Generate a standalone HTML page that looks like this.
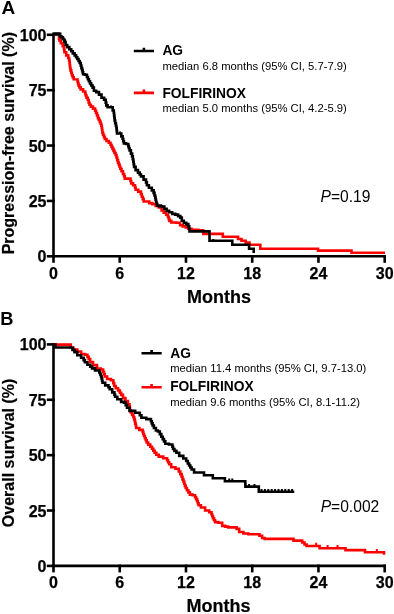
<!DOCTYPE html>
<html><head><meta charset="utf-8"><title>Kaplan-Meier curves</title>
<style>
html,body{margin:0;padding:0;background:#fff;}
body{width:394px;height:614px;overflow:hidden;}
svg{display:block;}
text{font-family:"Liberation Sans",Arial,sans-serif;fill:#000;}
.pl{font-size:19px;font-weight:bold;}
.yl{font-size:16px;font-weight:bold;stroke:#000;stroke-width:0.2px;}
.xl{font-size:18px;font-weight:bold;stroke:#000;stroke-width:0.2px;}
.tk{font-size:16px;font-weight:bold;stroke:#000;stroke-width:0.25px;}
.ln{font-size:13.8px;font-weight:bold;}
.lm{font-size:11.25px;}
.pv{font-size:15.6px;}
.ax{stroke:#000;stroke-width:2.6;fill:none;stroke-linecap:square;}
</style></head>
<body>
<svg width="394" height="614" viewBox="0 0 394 614">
<text x="1.5" y="13.8" class="pl">A</text>
<text transform="translate(14.0,143.2) rotate(-90)" class="yl" text-anchor="middle">Progression-free survival (%)</text>
<path d="M53.5,34.80V256.30H384.7" class="ax"/>
<path d="M48.1,256.30H53.5" class="ax"/>
<text x="46.5" y="262.30" class="tk" text-anchor="end">0</text>
<path d="M48.1,200.93H53.5" class="ax"/>
<text x="46.5" y="206.93" class="tk" text-anchor="end">25</text>
<path d="M48.1,145.55H53.5" class="ax"/>
<text x="46.5" y="151.55" class="tk" text-anchor="end">50</text>
<path d="M48.1,90.18H53.5" class="ax"/>
<text x="46.5" y="96.18" class="tk" text-anchor="end">75</text>
<path d="M48.1,34.80H53.5" class="ax"/>
<text x="46.5" y="40.80" class="tk" text-anchor="end">100</text>
<path d="M53.50,256.30V261.50" class="ax"/>
<text x="53.50" y="278.50" class="tk" text-anchor="middle">0</text>
<path d="M119.74,256.30V261.50" class="ax"/>
<text x="119.74" y="278.50" class="tk" text-anchor="middle">6</text>
<path d="M185.98,256.30V261.50" class="ax"/>
<text x="185.98" y="278.50" class="tk" text-anchor="middle">12</text>
<path d="M252.22,256.30V261.50" class="ax"/>
<text x="252.22" y="278.50" class="tk" text-anchor="middle">18</text>
<path d="M318.46,256.30V261.50" class="ax"/>
<text x="318.46" y="278.50" class="tk" text-anchor="middle">24</text>
<path d="M384.70,256.30V261.50" class="ax"/>
<text x="384.70" y="278.50" class="tk" text-anchor="middle">30</text>
<text x="219.1" y="303.30" class="xl" text-anchor="middle">Months</text>
<path d="M133.8,51.00H154.00M143.90,51.00V47.70" stroke="#000" stroke-width="2.6" fill="none"/>
<text x="162.4" y="55.20" class="ln">AG</text>
<text x="162.4" y="70.00" class="lm">median 6.8 months (95% CI, 5.7-7.9)</text>
<path d="M133.8,92.90H154.00M143.90,92.90V89.60" stroke="#f00" stroke-width="2.6" fill="none"/>
<text x="162.4" y="97.50" class="ln">FOLFIRINOX</text>
<text x="162.4" y="111.90" class="lm">median 5.0 months (95% CI, 4.2-5.9)</text>
<text x="320.5" y="201.90" class="pv"><tspan font-style="italic">P</tspan>=0.19</text>
<polyline points="53.5,34.2 59.0,34.2 59.0,38.6 59.4,38.6 59.4,40.5 59.8,40.5 60.8,40.5 60.8,43.2 61.7,43.2 62.7,43.2 62.7,46.2 63.7,46.2 63.9,46.2 63.9,48.2 64.2,48.2 64.2,50.3 64.5,50.3 64.5,52.3 64.7,52.3 66.2,52.3 66.2,55.4 67.8,55.4 68.2,55.4 68.2,58.0 69.1,58.0 69.1,60.5 69.5,60.5 69.6,60.5 69.6,63.0 69.8,63.0 69.8,65.5 70.1,65.5 70.1,68.0 70.2,68.0 70.5,68.0 70.5,70.4 71.2,70.4 71.2,72.8 71.9,72.8 71.9,75.2 72.2,75.2 72.7,75.2 72.7,77.2 73.7,77.2 73.7,79.3 74.2,79.3 77.3,79.5 77.5,79.5 77.5,81.5 78.0,81.5 78.0,83.4 78.5,83.4 78.5,85.4 78.8,85.4 79.4,85.4 79.4,87.4 80.7,87.4 80.7,89.4 81.3,89.4 83.1,89.4 83.1,91.5 84.9,91.5 85.2,91.5 85.2,93.5 85.7,93.5 85.7,95.5 85.9,95.5 86.5,95.5 86.5,97.8 87.8,97.8 87.8,100.0 88.4,100.0 88.7,100.0 88.7,102.8 88.9,102.8 89.5,102.8 89.5,104.7 90.8,104.7 90.8,106.6 91.4,106.6 93.0,106.6 93.0,108.6 94.6,108.6 95.1,108.6 95.1,110.8 96.0,110.8 96.0,113.0 96.5,113.0 97.0,113.0 97.0,115.5 97.9,115.5 97.9,118.1 98.4,118.1 98.9,118.1 98.9,120.0 99.8,120.0 99.8,121.9 100.3,121.9 100.6,121.9 100.6,123.8 101.3,123.8 101.3,125.7 101.6,125.7 101.8,125.7 101.8,128.0 102.1,128.0 102.1,130.3 102.4,130.3 102.4,132.6 102.6,132.6 103.0,132.6 103.0,134.7 103.9,134.7 103.9,136.9 104.8,136.9 104.8,139.0 105.2,139.0 106.5,139.0 106.5,141.0 107.7,141.0 108.8,141.0 108.8,142.8 110.0,142.8 110.5,142.8 110.5,144.8 111.5,144.8 111.5,146.9 112.5,146.9 112.5,148.9 113.0,148.9 113.5,148.9 113.5,150.9 114.5,150.9 114.5,153.0 115.6,153.0 115.6,155.0 116.1,155.0 116.5,155.0 116.5,157.5 117.2,157.5 117.2,160.1 118.0,160.1 118.0,162.6 118.4,162.6 118.8,162.6 118.8,164.6 119.6,164.6 119.6,166.7 120.3,166.7 120.3,168.7 120.7,168.7 121.5,168.7 121.5,171.3 123.0,171.3 123.0,174.0 123.7,174.0 124.1,174.0 124.1,176.3 124.8,176.3 124.8,178.6 125.2,178.6 130.2,178.6 130.5,178.6 130.5,181.0 131.2,181.0 131.2,183.4 131.5,183.4 133.1,183.4 133.1,185.3 134.7,185.3 135.0,185.3 135.0,187.5 135.6,187.5 135.6,189.7 135.9,189.7 138.2,189.7 138.2,191.6 140.4,191.6 140.9,191.6 140.9,194.1 141.8,194.1 141.8,196.7 142.3,196.7 142.8,196.7 142.8,199.1 143.7,199.1 143.7,201.5 144.2,201.5 148.0,201.5 149.2,201.5 149.2,203.1 150.5,203.1 152.4,203.1 152.4,204.3 154.3,204.3 155.6,204.3 155.6,206.0 156.9,206.0 158.8,206.0 158.8,207.5 160.7,207.5 161.6,207.5 161.6,210.5 162.4,210.5 163.7,210.5 163.7,212.7 166.2,212.7 166.2,214.8 167.5,214.8 167.9,214.8 167.9,216.8 168.7,216.8 168.7,218.9 169.4,218.9 169.4,220.9 169.8,220.9 171.3,220.9 171.3,222.5 172.8,222.5 176.2,222.5 176.2,222.8 179.6,222.8 180.1,222.8 180.1,225.2 180.5,225.2 182.7,225.2 182.7,226.4 184.9,226.4 185.7,226.4 185.7,227.5 186.4,227.5 188.2,227.5 188.2,228.7 189.9,228.7 191.6,228.7 191.6,229.8 193.3,229.8 198.2,229.8 198.2,230.2 203.0,230.2 203.2,230.2 203.2,232.1 203.4,232.1 203.4,233.9 203.6,233.9 221.6,233.7 222.8,233.7 222.8,236.7 223.9,236.7 238.0,236.7 238.0,239.0 241.5,239.0 241.5,240.7 245.7,240.7 245.7,242.6 249.5,242.6 249.5,244.7 260.3,244.7 260.3,248.8 318.0,248.8 318.0,250.6 351.5,250.6 351.5,252.7 385.0,252.7" stroke="#f00" stroke-width="2.6" fill="none" stroke-linejoin="miter" stroke-miterlimit="4"/>
<polyline points="53.5,33.8 59.9,33.8 60.2,33.8 60.2,36.4 60.6,36.4 61.4,36.4 61.4,37.4 62.2,37.4 62.9,37.4 62.9,39.0 63.6,39.0 64.1,39.0 64.1,40.6 64.6,40.6 64.8,40.6 64.8,42.0 65.0,42.0 65.6,42.0 65.6,45.0 66.2,45.0 67.2,45.0 67.2,47.1 69.3,47.1 69.3,49.3 70.3,49.3 71.2,49.3 71.2,51.3 72.8,51.3 72.8,53.4 74.6,53.4 74.6,55.4 75.4,55.4 76.1,55.4 76.1,57.2 77.3,57.2 77.3,59.0 78.0,59.0 78.6,59.0 78.6,61.0 79.7,61.0 79.7,63.0 80.3,63.0 80.7,63.0 80.7,65.5 81.4,65.5 81.4,68.1 81.8,68.1 82.1,68.1 82.1,70.1 82.6,70.1 82.6,72.2 83.1,72.2 83.1,74.2 83.4,74.2 84.9,74.2 84.9,74.7 86.4,74.7 86.9,74.7 86.9,77.0 87.9,77.0 87.9,79.3 88.4,79.3 88.9,79.3 88.9,81.3 90.0,81.3 90.0,83.4 90.5,83.4 91.2,83.4 91.2,85.5 92.6,85.5 92.6,87.6 93.3,87.6 93.9,87.6 93.9,90.8 94.6,90.8 96.2,90.8 96.2,92.1 97.8,92.1 99.0,92.1 99.0,94.6 100.3,94.6 101.5,94.6 101.5,97.8 102.8,97.8 104.1,97.8 104.1,99.7 105.4,99.7 105.7,99.7 105.7,102.6 106.3,102.6 106.3,105.4 106.6,105.4 107.6,105.4 107.6,107.3 108.6,107.3 111.7,107.3 112.7,107.3 112.7,110.5 113.6,110.5 113.8,110.5 113.8,113.0 114.1,113.0 114.1,115.5 114.4,115.5 114.4,118.1 114.7,118.1 114.7,120.6 114.9,120.6 115.2,120.6 115.2,123.2 115.9,123.2 115.9,125.7 116.2,125.7 116.4,125.7 116.4,128.3 116.7,128.3 116.7,130.9 117.0,130.9 117.0,133.5 117.2,133.5 120.4,133.5 121.3,133.5 121.3,136.4 122.3,136.4 122.6,136.4 122.6,138.7 123.2,138.7 123.2,141.1 123.9,141.1 123.9,143.4 124.2,143.4 126.1,143.4 126.1,144.0 128.0,144.0 128.3,144.0 128.3,146.1 128.9,146.1 128.9,148.3 129.6,148.3 129.6,150.4 129.9,150.4 130.9,150.4 130.9,153.6 131.8,153.6 132.1,153.6 132.1,156.4 132.8,156.4 132.8,159.3 133.1,159.3 133.3,159.3 133.3,161.8 133.7,161.8 133.7,164.4 134.1,164.4 134.1,166.9 134.3,166.9 135.6,166.9 135.6,170.1 136.9,170.1 138.0,170.1 138.0,172.6 139.1,172.6 139.7,172.6 139.7,174.5 141.0,174.5 141.0,176.4 141.6,176.4 143.6,176.4 143.6,179.6 145.5,179.6 146.0,179.6 146.0,182.4 146.9,182.4 146.9,185.3 147.4,185.3 148.9,185.3 148.9,187.8 150.5,187.8 151.8,187.8 151.8,190.4 153.1,190.4 153.6,190.4 153.6,192.9 154.5,192.9 154.5,195.5 155.0,195.5 155.2,195.5 155.2,197.6 155.6,197.6 155.6,199.7 156.0,199.7 156.0,201.8 156.2,201.8 156.5,201.8 156.5,203.7 157.2,203.7 157.2,205.5 157.5,205.5 159.1,205.5 159.1,206.2 160.7,206.2 162.0,206.2 162.0,206.5 163.3,206.5 164.3,206.5 164.3,208.8 165.3,208.8 166.6,208.8 166.6,210.8 167.8,210.8 169.1,210.8 169.1,212.3 170.4,212.3 172.2,212.3 172.2,213.9 173.9,213.9 175.2,213.9 175.2,214.6 176.5,214.6 178.1,214.6 178.1,216.1 179.6,216.1 180.3,216.1 180.3,217.6 181.1,217.6 181.8,217.6 181.8,220.7 182.6,220.7 183.8,220.7 183.8,222.9 184.9,222.9 186.2,222.9 186.2,224.1 187.6,224.1 188.3,224.1 188.3,226.4 189.1,226.4 189.2,226.4 189.2,228.9 189.5,228.9 189.5,231.4 189.7,231.4 209.5,231.4 209.5,240.8 232.3,240.8 232.3,244.8 249.1,244.7 249.1,248.7 253.7,248.7 253.7,252.9" stroke="#000" stroke-width="2.6" fill="none" stroke-linejoin="miter" stroke-miterlimit="4"/>
<path d="M111.0,107.3V105.4M120.0,133.5V131.6M161.2,206.2V204.3M213.3,240.8V238.9" stroke="#000" stroke-width="2" fill="none"/>
<rect x="52.3" y="32.4" width="7.9" height="3.3" fill="#000"/>
<text transform="translate(0.2,325.0) scale(0.96,1)" class="pl">B</text>
<text transform="translate(14.0,452.9) rotate(-90)" class="yl" text-anchor="middle">Overall survival (%)</text>
<path d="M53.5,344.40V565.90H384.7" class="ax"/>
<path d="M48.1,565.90H53.5" class="ax"/>
<text x="46.5" y="571.90" class="tk" text-anchor="end">0</text>
<path d="M48.1,510.53H53.5" class="ax"/>
<text x="46.5" y="516.53" class="tk" text-anchor="end">25</text>
<path d="M48.1,455.15H53.5" class="ax"/>
<text x="46.5" y="461.15" class="tk" text-anchor="end">50</text>
<path d="M48.1,399.78H53.5" class="ax"/>
<text x="46.5" y="405.78" class="tk" text-anchor="end">75</text>
<path d="M48.1,344.40H53.5" class="ax"/>
<text x="46.5" y="350.40" class="tk" text-anchor="end">100</text>
<path d="M53.50,565.90V571.10" class="ax"/>
<text x="53.50" y="588.10" class="tk" text-anchor="middle">0</text>
<path d="M119.74,565.90V571.10" class="ax"/>
<text x="119.74" y="588.10" class="tk" text-anchor="middle">6</text>
<path d="M185.98,565.90V571.10" class="ax"/>
<text x="185.98" y="588.10" class="tk" text-anchor="middle">12</text>
<path d="M252.22,565.90V571.10" class="ax"/>
<text x="252.22" y="588.10" class="tk" text-anchor="middle">18</text>
<path d="M318.46,565.90V571.10" class="ax"/>
<text x="318.46" y="588.10" class="tk" text-anchor="middle">24</text>
<path d="M384.70,565.90V571.10" class="ax"/>
<text x="384.70" y="588.10" class="tk" text-anchor="middle">30</text>
<text x="218.5" y="612.30" class="xl" text-anchor="middle">Months</text>
<text x="320.7" y="511.70" class="pv"><tspan font-style="italic">P</tspan>=0.002</text>
<path d="M141.5,353.30H161.70M151.60,353.30V350.00" stroke="#000" stroke-width="2.6" fill="none"/>
<text x="170.2" y="357.70" class="ln">AG</text>
<text x="170.2" y="372.20" class="lm">median 11.4 months (95% CI, 9.7-13.0)</text>
<path d="M141.5,387.20H161.70M151.60,387.20V383.90" stroke="#f00" stroke-width="2.6" fill="none"/>
<text x="170.2" y="391.40" class="ln">FOLFIRINOX</text>
<text x="170.2" y="406.00" class="lm">median 9.6 months (95% CI, 8.1-11.2)</text>
<polyline points="53.5,344.6 70.5,344.6 70.8,344.6 70.8,347.5 71.2,347.5 73.3,347.5 73.3,349.6 75.4,349.6 77.3,349.6 77.3,351.5 79.2,351.5 81.1,351.5 81.1,354.0 83.0,354.0 84.9,354.0 84.9,354.7 86.8,354.7 87.4,354.7 87.4,356.9 88.7,356.9 88.7,359.1 89.3,359.1 90.2,359.1 90.2,362.0 91.0,362.0 93.0,362.0 93.0,365.1 95.1,365.1 97.0,365.1 97.0,368.5 98.9,368.5 100.8,368.5 100.8,369.5 102.7,369.5 103.1,369.5 103.1,371.8 104.0,371.8 104.0,374.2 104.8,374.2 104.8,376.5 105.2,376.5 107.1,376.5 107.1,379.0 109.0,379.0 110.9,379.0 110.9,380.3 112.8,380.3 113.3,380.3 113.3,383.1 114.2,383.1 114.2,386.0 114.7,386.0 115.8,386.0 115.8,388.2 118.1,388.2 118.1,390.5 119.2,390.5 119.8,390.5 119.8,392.7 121.1,392.7 121.1,394.9 121.7,394.9 123.0,394.9 123.0,398.1 124.3,398.1 125.4,398.1 125.4,401.0 126.5,401.0 127.9,401.0 127.9,404.4 129.3,404.4 129.5,404.4 129.5,406.3 129.8,406.3 129.8,408.3 130.0,408.3 130.0,410.2 130.2,410.2 130.8,410.2 130.8,412.5 132.1,412.5 132.1,414.9 133.4,414.9 133.4,417.2 134.0,417.2 134.2,417.2 134.2,419.4 134.8,419.4 134.8,421.5 135.2,421.5 135.2,423.7 135.8,423.7 135.8,425.8 136.2,425.8 136.2,428.0 136.5,428.0 139.3,428.0 139.3,429.9 142.2,429.9 142.6,429.9 142.6,431.9 143.3,431.9 143.3,434.0 144.0,434.0 144.0,436.0 144.4,436.0 144.9,436.0 144.9,438.2 145.8,438.2 145.8,440.3 146.7,440.3 146.7,442.5 147.2,442.5 148.2,442.5 148.2,444.6 150.3,444.6 150.3,446.7 151.4,446.7 152.0,446.7 152.0,448.7 153.3,448.7 153.3,450.8 154.6,450.8 154.6,452.8 155.2,452.8 156.3,452.8 156.3,454.7 158.7,454.7 158.7,456.6 159.8,456.6 163.2,456.6 163.2,458.2 166.6,458.2 167.1,458.2 167.1,460.2 168.1,460.2 168.1,462.2 169.2,462.2 169.2,464.2 169.7,464.2 171.2,464.2 171.2,467.3 172.7,467.3 175.4,467.3 175.4,468.8 178.1,468.8 178.8,468.8 178.8,471.5 180.3,471.5 180.3,474.1 181.1,474.1 181.6,474.1 181.6,476.8 182.5,476.8 182.5,479.4 183.0,479.4 183.4,479.4 183.4,481.5 184.2,481.5 184.2,483.7 184.9,483.7 184.9,485.9 185.7,485.9 185.7,488.0 186.1,488.0 186.9,488.0 186.9,490.2 188.4,490.2 188.4,492.4 189.9,492.4 189.9,494.6 190.7,494.6 192.6,494.6 192.6,495.3 194.5,495.3 195.1,495.3 195.1,497.2 196.1,497.2 196.1,499.1 196.7,499.1 197.1,499.1 197.1,501.1 197.8,501.1 197.8,503.2 198.6,503.2 198.6,505.2 199.0,505.2 200.9,505.2 200.9,507.5 202.8,507.5 205.1,507.5 205.1,510.5 207.4,510.5 209.2,510.5 209.2,512.2 211.1,512.2 211.5,512.2 211.5,514.2 212.2,514.2 212.2,516.3 213.0,516.3 213.0,518.3 213.4,518.3 214.0,518.3 214.0,520.2 215.1,520.2 215.1,522.1 215.7,522.1 218.3,522.1 218.3,522.8 221.0,522.8 222.2,522.8 222.2,525.9 223.3,525.9 225.2,525.9 225.2,526.6 227.1,526.6 228.2,526.6 228.2,527.4 229.4,527.4 235.4,527.4 236.6,527.4 236.6,528.9 237.7,528.9 239.2,528.9 239.2,532.0 240.8,532.0 243.4,532.0 243.4,533.5 246.1,533.5 248.4,533.5 248.4,534.2 250.7,534.2 258.3,534.2 259.5,534.2 259.5,535.8 260.6,535.8 262.1,535.8 262.1,538.0 263.6,538.0 264.6,538.0 264.6,538.9 265.7,538.9 293.5,538.9 293.5,540.6 301.0,540.6 302.2,540.6 302.2,542.5 303.5,542.5 304.5,542.5 304.5,544.5 305.5,544.5 306.6,544.5 306.6,546.0 307.8,546.0 319.6,546.0 319.6,548.2 345.5,548.2 345.5,550.1 365.0,550.1 365.0,552.2 384.0,552.2 384.0,554.8" stroke="#f00" stroke-width="2.6" fill="none" stroke-linejoin="miter" stroke-miterlimit="4"/>
<path d="M316.2,546.0V542.8M327.6,548.2V545.0M337.5,548.2V545.0M376.8,552.2V549.0" stroke="#f00" stroke-width="2" fill="none"/>
<polyline points="53.5,344.6 55.5,344.6 55.5,347.5 70.9,347.5 71.6,347.7 72.5,347.7 72.5,349.9 74.5,349.9 74.5,352.1 75.4,352.1 77.3,352.1 77.3,355.3 79.2,355.3 81.1,355.3 81.1,357.8 83.0,357.8 83.6,357.8 83.6,360.1 84.9,360.1 84.9,362.3 85.5,362.3 87.4,362.3 87.4,364.8 89.3,364.8 90.2,364.8 90.2,366.6 92.1,366.6 92.1,368.4 93.1,368.4 95.0,368.4 95.0,370.5 97.0,370.5 98.9,370.5 99.3,370.5 99.3,372.5 100.2,372.5 100.2,374.5 101.0,374.5 101.0,376.5 101.4,376.5 101.6,376.5 101.6,378.6 102.1,378.6 102.1,380.7 102.5,380.7 102.5,382.8 102.7,382.8 105.2,382.8 105.2,385.4 107.8,385.4 108.4,385.4 108.4,387.3 109.7,387.3 109.7,389.2 110.3,389.2 112.2,389.2 112.2,392.4 114.1,392.4 114.4,392.4 114.4,394.6 115.1,394.6 115.1,396.8 115.4,396.8 117.3,396.8 117.3,399.3 119.2,399.3 121.1,399.3 121.1,401.9 123.0,401.9 124.0,401.9 124.0,402.6 125.1,402.6 125.7,402.6 125.7,405.1 127.0,405.1 127.0,407.7 127.6,407.7 129.5,407.7 129.5,410.9 131.4,410.9 135.2,410.9 135.2,412.8 139.0,412.8 139.8,412.8 139.8,415.3 141.4,415.3 141.4,417.8 142.2,417.8 146.3,417.8 146.3,419.1 150.5,419.1 150.9,419.1 150.9,421.2 151.8,421.2 151.8,423.4 152.6,423.4 152.6,425.5 153.0,425.5 153.9,425.5 153.9,428.0 155.9,428.0 155.9,430.5 156.8,430.5 157.9,430.5 157.9,431.5 159.0,431.5 159.8,431.5 159.8,434.1 161.3,434.1 161.3,436.8 162.1,436.8 162.7,436.8 162.7,439.1 164.0,439.1 164.0,441.4 165.3,441.4 165.3,443.7 165.9,443.7 168.9,443.7 168.9,444.5 172.0,444.5 172.4,444.5 172.4,446.8 173.1,446.8 173.1,449.0 173.5,449.0 174.4,449.0 174.4,450.9 176.4,450.9 176.4,452.8 177.3,452.8 179.2,452.8 179.2,455.9 181.1,455.9 183.3,455.9 183.3,458.5 185.5,458.5 186.2,458.5 186.2,461.0 187.8,461.0 187.8,463.5 188.5,463.5 189.1,463.5 189.1,465.5 190.3,465.5 190.3,467.5 191.6,467.5 191.6,469.5 192.2,469.5 194.1,469.5 194.1,472.5 196.0,472.5 203.5,472.5 204.0,472.5 204.0,475.3 204.5,475.3 212.5,475.3 212.8,475.3 212.8,478.3 213.0,478.3 224.7,478.3 224.9,478.3 224.9,481.2 225.2,481.2 245.2,481.2 245.3,481.2 245.3,483.9 245.4,483.9 245.4,486.6 245.5,486.6 258.8,486.6 258.8,491.7 294.3,491.7" stroke="#000" stroke-width="2.6" fill="none" stroke-linejoin="miter" stroke-miterlimit="4"/>
<path d="M229.2,481.2V478.5M232.3,481.2V478.5M249.1,486.6V483.9M254.5,486.6V483.9M261.5,491.7V489.0M264.9,491.7V489.0M268.3,491.7V489.0M271.7,491.7V489.0M275.1,491.7V489.0M278.5,491.7V489.0M281.9,491.7V489.0M285.3,491.7V489.0M288.7,491.7V489.0M292.1,491.7V489.0" stroke="#000" stroke-width="2" fill="none"/>
</svg>
</body></html>
